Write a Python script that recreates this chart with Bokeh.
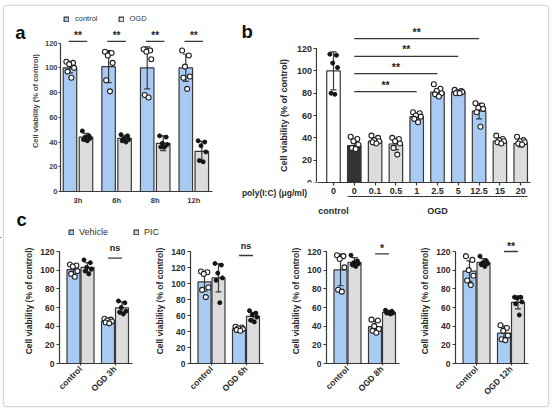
import numpy as np
from bokeh.plotting import figure
from bokeh.models import (Range1d, FixedTicker, Legend, LegendItem, Label,
                          LinearAxis, ColumnDataSource, Spacer)
from bokeh.layouts import column, row
from bokeh.embed import file_html
from bokeh.resources import INLINE
from bokeh.core.properties import value

FONT = "Liberation Sans"
BLUE = "#a9cbf3"
GRAY = "#dcdcdc"
BLACKBAR = "#333333"
EDGE = "#383838"
TXT = "#2a2a2a"

# ---------------- panel a data ----------------
a_times = ["3h", "6h", "8h", "12h"]
a_series = ["control", "OGD"]
a_ctrl_mean = [100, 101, 100, 100]
a_ctrl_sd = [4, 13, 17, 11]
a_ogd_mean = [44, 43, 39, 32.5]
a_ogd_sd = [3, 2.5, 6, 8]
a_ctrl_pts = [[105, 104, 103, 100, 97, 92], [113, 112, 110, 104, 90, 81],
              [115, 114, 113, 107, 78, 76], [114, 110, 101, 93, 92, 83]]
a_ogd_pts = [[49, 45, 44, 43, 42, 41], [46, 45, 43, 42, 41, 40],
             [45, 44, 39, 38, 36, 36], [41, 40, 37, 32, 25, 24]]
a_sig = ["**", "**", "**", "**"]
a_sig_y = [121.5, 121.5, 121.5, 121.5]

# ---------------- panel b data ----------------
b_labels = ["0", "0", "0.1", "0.5", "1", "2.5", "5", "12.5", "15", "20"]
b_groups = ["control", "OGD"]
b_xtitle = "poly(I:C) (μg/ml)"
b_mean = [100, 33, 37, 34.5, 59, 81, 81, 64, 37, 35]
b_sd = [17, 4, 3, 5, 3, 3, 1.5, 7, 3, 3]
b_pts = [[115, 114, 107, 103, 80, 79], [41, 39, 37, 34, 31, 30],
         [42, 40, 38, 37, 36, 35], [40, 39, 37, 35, 31, 25],
         [63, 62, 60, 59, 57, 54], [88, 84, 82, 80, 79, 77],
         [83, 82, 81, 81, 80, 80], [71, 69, 67, 66, 63, 50],
         [42, 39, 38, 37, 36, 35], [41, 38, 37, 36, 35, 34]]
b_sig_from = 1
b_sig_to = [4, 5, 6, 7]
b_sig = ["**", "**", "**", "**"]
b_sig_y = [81.5, 97.5, 113.0, 129.0]

# ---------------- panel c data ----------------
c_times = ["3h", "6h", "8h", "12h"]
c_series = ["Vehicle", "PIC"]
c_veh_mean = [[100.5, 45.5], [102, 43], [100.3, 39.5], [99, 32.5]]
c_veh_sd = [[5, 3], [11.5, 2.5], [17, 6], [11, 7.5]]
c_pic_mean = [[103, 59.5], [107, 59], [108.5, 54.7], [108.3, 65.5]]
c_pic_sd = [[5, 6.5], [17.5, 5], [5, 2], [4, 7]]
c_veh_pts = [[[106, 105, 104, 99, 96, 93], [48, 47, 46, 45, 44, 43]],
             [[115, 114, 112, 95, 92, 83], [46, 45, 44, 43, 42, 41]],
             [[116, 115, 112, 103, 79, 77], [47, 46, 40, 37, 35, 33]],
             [[115, 111, 100, 94, 89, 84], [41, 38, 35, 30, 26, 25]]]
c_pic_pts = [[[111, 108, 103, 101, 99, 96], [67, 65, 60, 56, 55, 53]],
             [[125, 123, 113, 107, 104, 76], [66, 63, 61, 58, 54, 52]],
             [[116, 110, 108, 107, 106, 104], [57, 56, 55, 54, 54, 53]],
             [[115, 110, 108, 107, 106, 104], [71, 71, 70, 66, 64, 52]]]
c_sig = ["ns", "ns", "*", "**"]
c_sig_y = [113, 135, 117.5, 120]
c_ymax = [120, 140, 120, 120]

YLAB = "Cell viability (% of control)"
JIT = [-0.27, 0.22, -0.06, 0.3, -0.18, 0.1]


def base_fig(w, h, xr, yr, ml, mr, mt, mb, **kw):
    p = figure(width=w, height=h, x_range=Range1d(*xr), y_range=Range1d(*yr),
               min_border_left=ml, min_border_right=mr, min_border_top=mt,
               min_border_bottom=mb, toolbar_location=None, output_backend="svg", **kw)
    p.xgrid.visible = False
    p.ygrid.visible = False
    p.outline_line_color = None
    p.border_fill_color = None
    p.background_fill_color = None
    try:
        p.frame_align = False
    except Exception:
        pass
    return p


def strip_fig(w, h, xr, yr):
    return base_fig(w, h, xr, yr, 0, 0, 0, 0, x_axis_location=None, y_axis_location=None)


def style_axis(ax, fs, bold=True, tick_out=3, standoff=3, color=TXT):
    ax.axis_line_color = EDGE
    ax.axis_line_width = 1.2
    ax.major_tick_line_color = EDGE
    ax.major_tick_line_width = 1.2
    ax.major_tick_in = 0
    ax.major_tick_out = tick_out
    ax.minor_tick_line_color = None
    ax.major_label_text_font = FONT
    ax.major_label_text_font_size = fs
    ax.major_label_text_font_style = "bold" if bold else "normal"
    ax.major_label_text_color = color
    ax.major_label_standoff = standoff
    ax.axis_label_text_font = FONT
    ax.axis_label_text_font_style = "bold"
    ax.axis_label_text_color = color


def draw_bars(p, xs, means, sds, pts, fills, hollow, width, cap, csize=5, dsize=4):
    lo = [m - s for m, s in zip(means, sds)]
    hi = [m + s for m, s in zip(means, sds)]
    src = ColumnDataSource(dict(x=list(xs), top=list(means), fill=list(fills), lo=lo, hi=hi,
                                c0=[x - cap for x in xs], c1=[x + cap for x in xs]))
    r = p.vbar(x="x", top="top", bottom=0, width=width, fill_color="fill",
               line_color=EDGE, line_width=1.2, source=src)
    p.segment(x0="x", y0="lo", x1="x", y1="hi", line_color=EDGE, line_width=1.2, source=src)
    p.segment(x0="c0", y0="hi", x1="c1", y1="hi", line_color=EDGE, line_width=1.2, source=src)
    p.segment(x0="c0", y0="lo", x1="c1", y1="lo", line_color=EDGE, line_width=1.2, source=src)
    hx, hy, dx, dy = [], [], [], []
    for x, vals, h in zip(xs, pts, hollow):
        for j, v in enumerate(vals):
            xx = x + JIT[j % len(JIT)] * width
            if h:
                hx.append(xx); hy.append(v)
            else:
                dx.append(xx); dy.append(v)
    if hx:
        p.scatter(hx, hy, marker="circle", size=csize, fill_color="white",
                  line_color="#1e1e1e", line_width=1.1)
    if dx:
        p.scatter(dx, dy, marker="circle", size=dsize, fill_color="#151515",
                  line_color="#151515")
    return r


def sig_marks(p, x0, x1, ys, texts, pxu, fs, mid_px, p_top=None, split=None):
    """Significance bars; items above `split` go to the strip figure p_top."""
    lines = {}
    labels = {}
    for a, b, y, t in zip(x0, x1, ys, texts):
        yt = y + mid_px / pxu
        fl = p_top if (p_top is not None and y > split) else p
        ft = p_top if (p_top is not None and yt > split) else p
        lines.setdefault(id(fl), [fl, [], [], []])
        lines[id(fl)][1].append(a); lines[id(fl)][2].append(b); lines[id(fl)][3].append(y)
        labels.setdefault(id(ft), [ft, [], [], []])
        labels[id(ft)][1].append((a + b) / 2); labels[id(ft)][2].append(yt)
        labels[id(ft)][3].append(t)
    for fig, sx0, sx1, sy in lines.values():
        fig.segment(x0=sx0, x1=sx1, y0=sy, y1=sy, line_color=EDGE, line_width=1.3)
    for fig, tx, ty, tt in labels.values():
        fig.text(x=tx, y=ty, text=tt, text_align="center", text_baseline="middle",
                 text_font=value(FONT), text_font_size=fs, text_font_style="bold",
                 text_color="#222222")


def letter(p, txt, x, y):
    p.add_layout(Label(x=x, y=y, x_units="screen", y_units="screen", text=txt,
                       text_font=FONT, text_font_size="18.5px", text_font_style="bold",
                       text_color="#111111", text_baseline="middle"))


def make_legend(items, loc, fs, standoff, spacing, gsize):
    return Legend(items=items, orientation="horizontal", location=loc, padding=0, margin=0,
                  glyph_width=gsize, glyph_height=gsize, label_standoff=standoff,
                  spacing=spacing, label_text_font=FONT, label_text_font_size=fs,
                  label_text_color="#333333", border_line_color=None,
                  background_fill_alpha=0)


# ================= panel a =================
a_pxu = 1.25           # px per % unit
a_gap = 38.6           # px between time groups
a_w = 13.5 / a_gap
a_off = 8.0 / a_gap
a_idx = np.arange(len(a_times))
a_xr = (-0.453, 3.484)
A_FTOP = 10
A_H = 207
pa = base_fig(230, A_H, a_xr, (0, (193 - A_FTOP) / a_pxu), 60, 18, A_FTOP, A_H - 193)
rc = draw_bars(pa, a_idx - a_off, a_ctrl_mean, a_ctrl_sd, a_ctrl_pts,
               [BLUE] * 4, [True] * 4, a_w, 3 / a_gap)
ro = draw_bars(pa, a_idx + a_off, a_ogd_mean, a_ogd_sd, a_ogd_pts,
               [GRAY] * 4, [False] * 4, a_w, 3 / a_gap)
sig_marks(pa, a_idx - 0.24, a_idx + 0.24, a_sig_y, a_sig, a_pxu, "10px", 5.7)
style_axis(pa.yaxis[0], "7.5px", tick_out=2, standoff=1, color="#444444")
pa.yaxis[0].ticker = FixedTicker(ticks=list(range(0, 121, 20)))
pa.yaxis[0].bounds = (0, 120)
pa.yaxis[0].axis_label = YLAB
pa.yaxis[0].axis_label_text_font_size = "7.5px"
pa.yaxis[0].axis_label_standoff = 2
style_axis(pa.xaxis[0], "7.5px", tick_out=0, standoff=4, color="#333333")
pa.xaxis[0].ticker = FixedTicker(ticks=list(a_idx))
pa.xaxis[0].major_label_overrides = {int(i): t for i, t in zip(a_idx, a_times)}
# panel letter as an outer left-axis label
ax_a = LinearAxis(ticker=FixedTicker(ticks=[129]), major_label_overrides={129: "a"})
style_axis(ax_a, "18.5px", tick_out=0, standoff=2, color="#111111")
ax_a.axis_line_color = None
pa.add_layout(ax_a, "left")
pa.add_layout(make_legend([LegendItem(label=a_series[0], renderers=[rc]),
                           LegendItem(label=a_series[1], renderers=[ro])],
                          (3, 168), "7.5px", 6, 20, 6))

# legend strip for panel c (under panel a)
LC_H = 238 - A_H
legc = strip_fig(230, LC_H, (0, 230), (0, LC_H))
rv = legc.vbar(x=[-1000], top=[1], width=1, fill_color=BLUE, line_color=EDGE, line_width=1.2)
rp = legc.vbar(x=[-1000], top=[1], width=1, fill_color=GRAY, line_color=EDGE, line_width=1.2)
legc.add_layout(make_legend([LegendItem(label=c_series[0], renderers=[rv]),
                             LegendItem(label=c_series[1], renderers=[rp])],
                            (68, 1), "9px", 5, 25, 6))
letter(legc, "c", 16, 238 - 218.9)

# ================= panel b =================
b_pxu = 1.116
b_gap = 20.8
b_w = 13.5 / b_gap
b_idx = np.arange(len(b_labels))
b_xr = (-0.769, 9.471)
B_ZERO = 182
B_TOP = 42
B_H = 238 - B_TOP
b_split = (B_ZERO - B_TOP) / b_pxu
b_yr = (0, b_split)

# y axis + x title (left part)
pby = base_fig(87, B_H, (-47, 0), b_yr, 40, 0, 0, 238 - B_ZERO)
style_axis(pby.yaxis[0], "9px", tick_out=3, standoff=2)
pby.yaxis[0].fixed_location = -0.6
pby.yaxis[0].ticker = FixedTicker(ticks=list(range(0, 121, 20)))
pby.yaxis[0].bounds = (0, 120)
pby.yaxis[0].axis_label = YLAB
pby.yaxis[0].axis_label_text_font_size = "9px"
pby.yaxis[0].axis_label_standoff = 4
style_axis(pby.xaxis[0], "8.5px", tick_out=0, standoff=5)
pby.xaxis[0].axis_line_color = None
pby.xaxis[0].ticker = FixedTicker(ticks=[-43])
pby.xaxis[0].major_label_overrides = {-43: b_xtitle}

# bars (right part)
pb = base_fig(236, B_H, b_xr, b_yr, 0, 23, 0, 238 - B_ZERO, y_axis_location=None)
b_fills = ["white", BLACKBAR, GRAY, GRAY, BLUE, BLUE, BLUE, BLUE, GRAY, GRAY]
b_hollow = [False] + [True] * 9
draw_bars(pb, b_idx, b_mean, b_sd, b_pts, b_fills, b_hollow, b_w, 3 / b_gap)
style_axis(pb.xaxis[0], "9px", tick_out=3, standoff=2)
pb.xaxis[0].ticker = FixedTicker(ticks=list(b_idx))
pb.xaxis[0].major_label_overrides = {int(i): t for i, t in zip(b_idx, b_labels)}
ax_line = LinearAxis(ticker=FixedTicker(ticks=[5]), major_label_overrides={5: " "},
                     bounds=(0.66, 9.31))
style_axis(ax_line, "1px", tick_out=0, standoff=0)
pb.add_layout(ax_line, "below")
ax_grp = LinearAxis(ticker=FixedTicker(ticks=[0, 5]),
                    major_label_overrides={0: b_groups[0], 5: b_groups[1]})
style_axis(ax_grp, "9px", tick_out=0, standoff=5)
ax_grp.axis_line_color = None
pb.add_layout(ax_grp, "below")

pb_top = strip_fig(323, B_TOP, (b_xr[0] - 87 / b_gap, b_xr[1] + 23 / b_gap),
                   (b_split, B_ZERO / b_pxu))
letter(pb_top, "b", 11, B_TOP - 31.2)
sig_marks(pb, [b_sig_from] * len(b_sig_to), b_sig_to, b_sig_y, b_sig, b_pxu, "10.5px", 6.9,
          p_top=pb_top, split=b_split)

# ================= panel c =================
c_gap = 34.5
c_w = 13.0 / c_gap
c_off = 7.0 / c_gap
c_frame_w = 73
c_frame_h = 125
C_H = 174
c_x0 = -21.0 / c_gap
c_idx = np.arange(2)
c_borders = [(50, 8), (50, 13), (50, 6), (50, 25)]
c_figs = []
for k, t in enumerate(c_times):
    ml, mr = c_borders[k]
    pxu = 112.0 / c_ymax[k]
    p = base_fig(ml + c_frame_w + mr, C_H, (c_x0, c_x0 + c_frame_w / c_gap),
                 (0, c_frame_h / pxu), ml, mr, 0, C_H - c_frame_h)
    draw_bars(p, c_idx - c_off, c_veh_mean[k], c_veh_sd[k], c_veh_pts[k],
              [BLUE] * 2, [True] * 2, c_w, 3 / c_gap)
    draw_bars(p, c_idx + c_off, c_pic_mean[k], c_pic_sd[k], c_pic_pts[k],
              [GRAY] * 2, [False] * 2, c_w, 3 / c_gap)
    if c_sig[k] == "ns":
        sig_marks(p, [1 - 0.2], [1 + 0.2], [c_sig_y[k]], [c_sig[k]], pxu, "9px", 9.6)
    else:
        sig_marks(p, [1 - 0.2], [1 + 0.2], [c_sig_y[k]], [c_sig[k]], pxu, "10.5px", 5.5)
    style_axis(p.yaxis[0], "8.5px", tick_out=3, standoff=2)
    p.yaxis[0].ticker = FixedTicker(ticks=list(range(0, c_ymax[k] + 1, 20)))
    p.yaxis[0].bounds = (0, c_ymax[k])
    p.yaxis[0].axis_label = YLAB
    p.yaxis[0].axis_label_text_font_size = "8.5px"
    p.yaxis[0].axis_label_standoff = 3
    style_axis(p.xaxis[0], "8.5px", tick_out=2, standoff=2)
    p.xaxis[0].ticker = FixedTicker(ticks=[0, 1])
    p.xaxis[0].major_label_overrides = {0: "control", 1: "OGD " + t}
    p.xaxis[0].major_label_orientation = np.pi / 4
    c_figs.append(p)

FRAME_CSS = (":host::after { content: ''; position: absolute; left: 3px; top: 5px; "
             "width: 544px; height: 400px; border: 1px solid #d6d6d6; border-radius: 3px; "
             "box-shadow: 0 0 3px rgba(0,0,0,0.10); pointer-events: none; z-index: 50; }")

top = row(column(pa, legc), column(pb_top, row(pby, pb)))
bottom = row(Spacer(width=9, height=C_H), *c_figs)
layout = column(top, bottom, stylesheets=[FRAME_CSS])

open("out.html", "w").write(file_html(layout, INLINE))
